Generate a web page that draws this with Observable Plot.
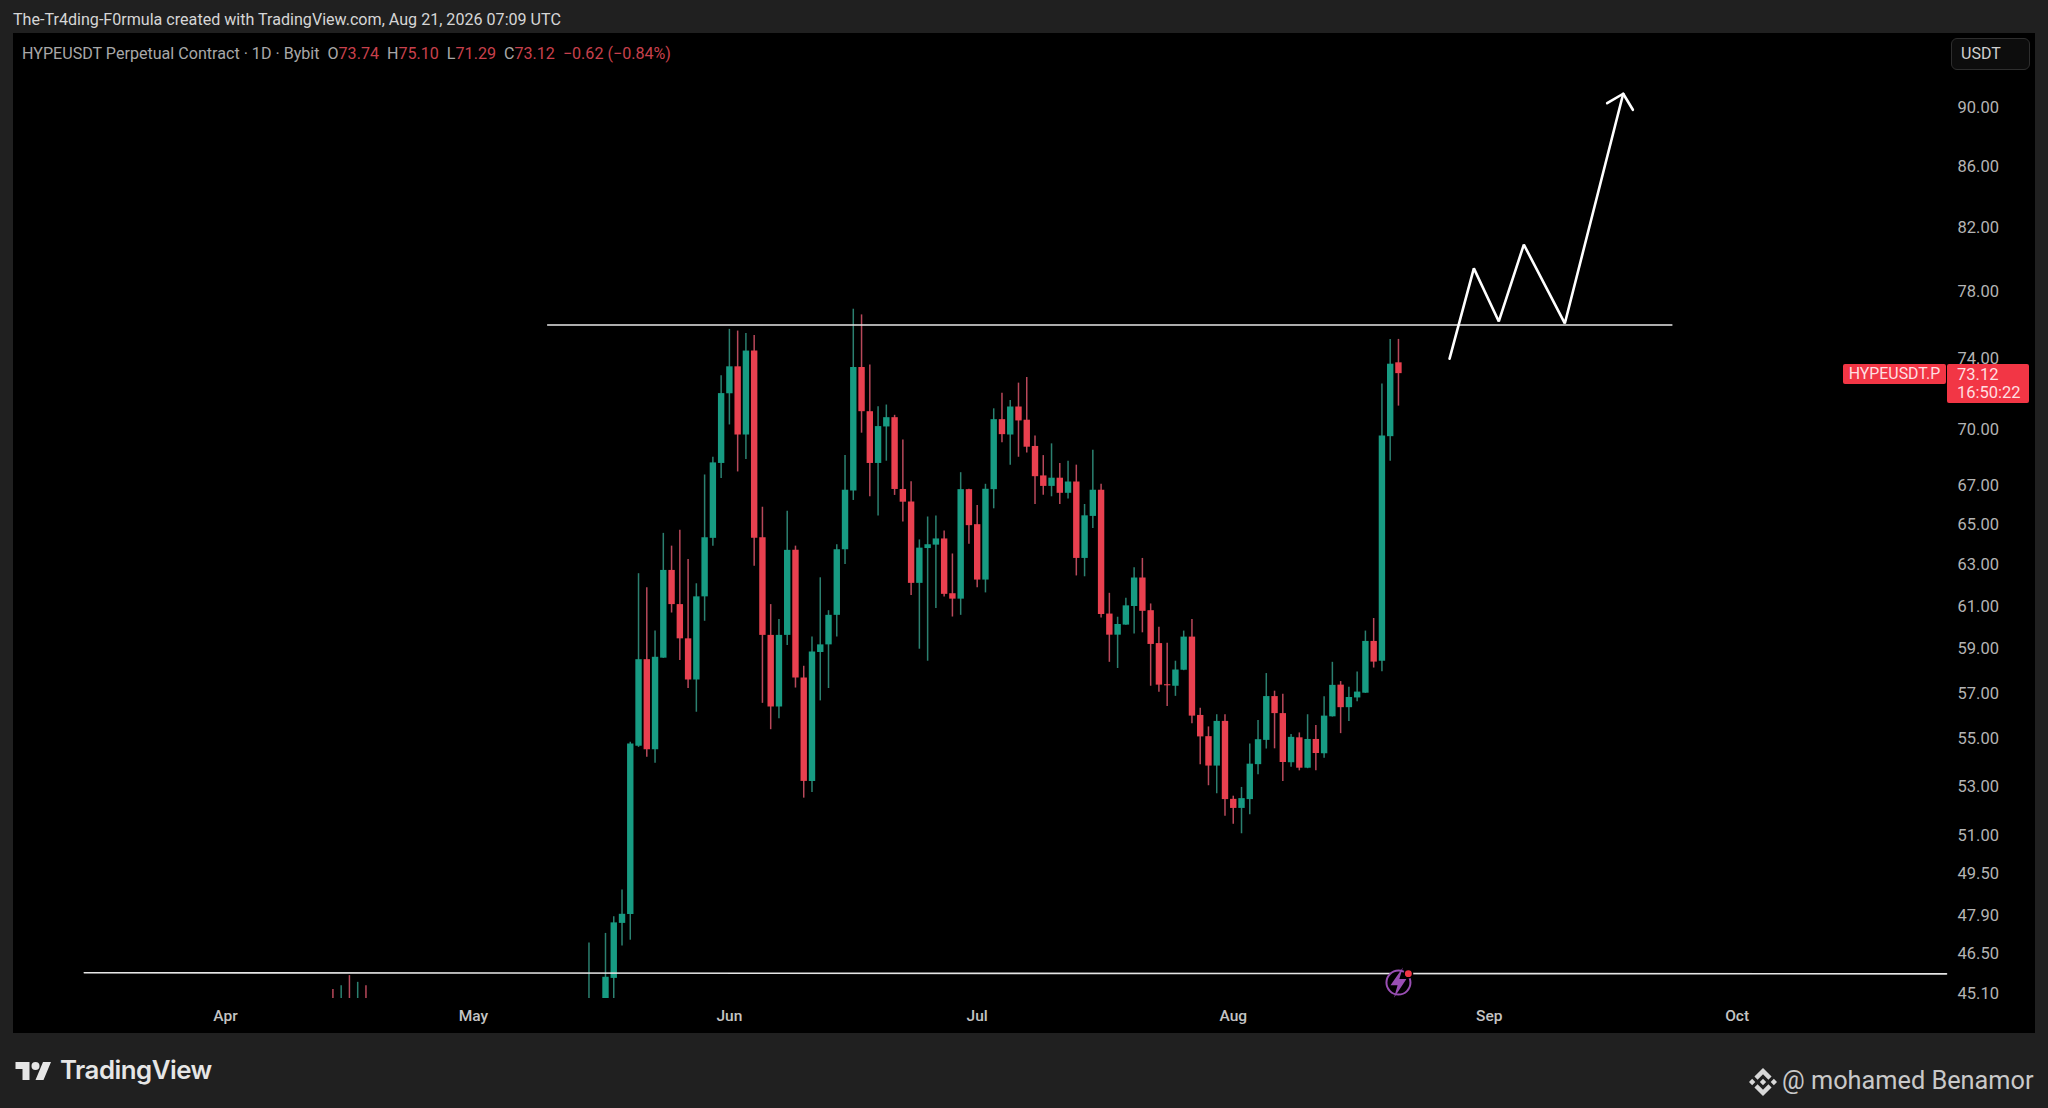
<!DOCTYPE html>
<html><head><meta charset="utf-8">
<script src="https://cdn.jsdelivr.net/npm/d3@7"></script>
<script src="https://cdn.jsdelivr.net/npm/@observablehq/plot@0.6"></script>
<style>
html,body{margin:0;padding:0;width:2048px;height:1108px;background:#202020;overflow:hidden;font-family:Roboto,sans-serif;}
#chart{position:absolute;left:13px;top:33px;width:2022px;height:1000px;background:#000;}
#chart svg{display:block;background:#000;}
.abs{position:absolute;white-space:nowrap;}
.r{color:#c8404c}
</style></head><body>
<div class="abs" style="left:13px;top:11px;font-size:16.1px;line-height:18px;color:#d6d6d6;">The-Tr4ding-F0rmula created with TradingView.com, Aug 21, 2026 07:09 UTC</div>
<div id="chart"></div>
<div class="abs" style="left:22px;top:45px;font-size:16.1px;line-height:18px;color:#a8a8a8;">HYPEUSDT Perpetual Contract · 1D · Bybit&nbsp;&nbsp;O<span class="r">73.74</span>&nbsp;&nbsp;H<span class="r">75.10</span>&nbsp;&nbsp;L<span class="r">71.29</span>&nbsp;&nbsp;C<span class="r">73.12</span>&nbsp;&nbsp;<span class="r">−0.62 (−0.84%)</span></div>
<div class="abs" style="left:1951px;top:38px;width:79px;height:32px;box-sizing:border-box;border:1px solid #2e2e2e;border-radius:6px;background:#0d0d0d;color:#d0d0d0;font-size:16px;line-height:30px;padding-left:9px;">USDT</div>
<div class="abs" style="left:1843px;top:364px;width:103px;height:20px;background:#f23645;border-radius:2px;color:#ffdfe1;font-size:15.9px;line-height:20px;text-align:center;">HYPEUSDT.P</div>
<div class="abs" style="left:1947px;top:364px;width:82px;height:39px;background:#f23645;border-radius:2px;color:#ffdfe1;font-size:16.5px;line-height:18px;padding-left:10px;box-sizing:border-box;padding-top:2px;">73.12<br>16:50:22</div>
<svg class="abs" style="left:15px;top:1058px" width="37" height="28" viewBox="0 0 36 28"><path d="M14 22H7V11H0V4h14v18zM28 22h-8l7.5-18h8L28 22z" fill="#e6e6e6"/><circle cx="20" cy="8" r="4" fill="#e6e6e6"/></svg>
<div class="abs" style="left:60px;top:1054px;font-size:25.8px;line-height:32px;font-weight:600;letter-spacing:-.5px;color:#e6e6e6;font-family:Inter,sans-serif;">TradingView</div>
<svg class="abs" style="left:1749px;top:1068px" width="28" height="28" viewBox="0 0 32 32"><path d="M9.8 13.4 16 7.2l6.2 6.2 3.6-3.6L16 0 6.2 9.8zM0 16l3.6-3.6L7.2 16l-3.6 3.6zM9.8 18.6 16 24.8l6.2-6.2 3.6 3.6L16 32l-9.8-9.8zM24.8 16l3.6-3.6L32 16l-3.6 3.6zM19.6 16 16 12.4 12.4 16 16 19.6z" fill="#d8d8d8"/></svg>
<div class="abs" style="left:1782px;top:1065px;font-size:25.3px;line-height:32px;color:#c9c9c9;">@ mohamed Benamor</div>
<script>
// Days counted from 1 April 2026
const dayIndex = [13,14,15,16,17,44,
 46,47,48,49,50,51,52,53,54,55,56,57,58,59,60,61,62,63,64,65,66,67,68,69,
 70,71,72,73,74,75,76,77,78,79,80,81,82,83,84,85,86,87,88,89,90,91,92,93,
 94,95,96,97,98,99,100,101,102,103,104,105,106,107,108,109,110,111,112,113,114,115,116,117,
 118,119,120,121,122,123,124,125,126,127,128,129,130,131,132,133,134,135,136,137,138,139,140,141,142];
const opens = [44.75,44.6,44.75,44.6,44.75,44.2,
 44.6,45.61,47.61,47.94,54.67,58.49,54.52,58.56,62.71,61.06,59.45,57.57,61.43,64.30,68.17,71.98,73.51,69.70,
 74.42,64.33,59.61,56.37,59.61,63.70,
 57.66,53.19,58.82,59.17,60.55,63.73,66.72,73.47,70.98,68.17,70.14,70.65,66.80,66.15,62.08,63.79,63.96,64.27,61.58,61.32,66.79,64.99,62.24,66.79,
 70.54,69.70,71.24,70.51,69.08,67.51,66.96,67.39,66.6,67.19,63.30,65.41,66.76,60.61,59.62,60.09,60.97,62.34,60.77,59.23,57.36,57.29,58.01,59.53,
 56.0,55.08,53.83,55.74,52.45,52.08,52.44,53.89,54.92,56.83,56.08,53.97,55.03,53.74,54.96,54.35,55.94,57.34,56.34,56.77,56.98,59.33,58.42,69.61,73.74];
const highs = [45.22,45.35,45.71,45.47,45.35,46.89,
 47.24,47.86,48.87,54.84,62.55,61.87,59.81,64.55,63.91,64.71,63.25,62.06,67.56,68.50,73.0,75.69,75.59,75.45,
 75.33,65.88,61.06,60.35,65.68,63.91,
 58.19,59.53,62.35,60.77,63.98,68.59,76.89,76.55,73.62,71.25,71.35,70.78,69.43,67.21,64.22,65.38,65.43,64.67,63.52,67.68,66.81,65.97,67.07,71.14,
 72.01,71.6,72.58,72.90,69.65,68.59,69.22,68.17,68.29,68.08,66.02,68.87,67.07,61.60,60.46,61.36,62.84,63.30,61.09,59.99,59.24,58.42,59.81,60.35,
 56.31,55.50,56.03,56.03,52.58,52.94,54.77,55.78,57.86,57.07,56.93,55.17,55.24,56.03,55.56,56.82,58.37,57.5,57.25,57.93,59.81,60.40,72.53,75.09,75.10];
const lows = [44.3,44.3,44.3,44.3,44.3,43.9,
 44.2,44.6,46.78,46.99,54.62,54.2,53.95,58.55,60.66,58.45,57.19,56.14,60.27,63.91,67.37,70.25,67.72,68.38,
 62.92,56.53,55.38,55.86,59.14,57.21,
 52.50,52.73,56.64,57.19,59.53,63.0,66.23,69.80,66.42,65.43,68.29,66.49,65.12,61.49,58.97,58.42,60.87,61.42,60.47,60.55,64.0,61.87,61.62,65.80,
 69.28,68.08,68.50,68.73,66.02,66.5,66.42,66.02,66.30,62.44,62.40,64.79,60.43,58.37,58.09,60.08,59.67,59.73,57.29,57.02,56.39,56.84,57.99,55.64,
 53.89,53.01,52.68,51.76,51.44,51.06,51.82,53.47,54.55,54.56,53.19,53.78,53.63,53.72,53.63,54.16,55.93,55.21,55.74,56.60,56.97,58.11,57.94,68.29,71.29];
const closes = [44.6,44.75,44.6,44.75,44.6,44.7,
 45.65,47.63,47.95,54.77,58.49,54.52,58.60,62.71,61.06,59.45,57.57,61.43,64.33,68.20,71.99,73.51,69.70,74.42,
 64.30,59.61,56.37,59.61,63.70,57.66,
 53.19,58.84,59.17,60.55,63.73,66.76,73.47,70.98,68.17,70.16,70.65,66.80,66.14,62.08,63.81,63.98,64.27,61.55,61.32,66.79,64.94,62.24,66.81,70.54,
 69.72,71.24,70.47,69.04,67.47,66.96,67.39,66.6,67.19,63.30,65.44,66.76,60.59,59.62,60.12,61.0,62.34,60.74,59.19,57.34,57.31,58.02,59.53,55.97,
 55.07,53.83,55.74,52.44,52.08,52.48,53.91,54.95,56.83,56.08,53.98,55.05,53.74,54.96,54.36,55.97,57.33,56.34,56.79,57.03,59.33,58.38,69.65,73.66,73.12];
const priceTicks = [90,86,82,78,74,70,67,65,63,61,59,57,55,53,51,49.5,47.9,46.5,45.1];
const monthLabels = [[3,1],[4,1],[5,1],[6,1],[7,1],[8,1],[9,1]];
// Drawings, as [day, price]
const resistance = [[39,75.95],[175.1,75.95]];
const support = [[-17.1,45.81],[208.35,45.77]];
const zigzag = [[148.19,73.98],[151.13,79.38],[154.15,76.16],[157.18,80.87],[162.14,76.04],[169.21,90.97]];
const arrowHead = [[167.27,90.30],[169.21,90.97],[170.38,89.84]];
const iconSpot = [142,45.46];
const alertSpot = [143.2,45.78];

const toDate = d => new Date(Date.UTC(2026,3,1) + d*864e5);
const rows = dayIndex.map((d,i)=>({date:toDate(d),open:opens[i],high:highs[i],low:lows[i],close:closes[i]}));
const ups = rows.filter(r=>r.close>=r.open), downs = rows.filter(r=>r.close<r.open);
const pts = a => a.map(([d,p])=>({date:toDate(d),price:p}));
const UP="#179b82", DOWN="#e8404f", UPW="#2b8070", DOWNW="#b8485a";
const opt = {clip:true};
const bodyW=6.4, wickW=1.5;
const lineStyle={x:"date",y:"price",stroke:"#e6e6e6"};
const bolt = {draw(c,s){const k=Math.sqrt(s)/9;const p=[[2.5,-8.5],[-4.5,1.5],[-0.5,1.5],[-2.5,8.5],[4.5,-2],[0.5,-2]];
  p.forEach(([a,b],i)=>i?c.lineTo(a*k,b*k):c.moveTo(a*k,b*k));c.closePath();}};
document.getElementById("chart").append(Plot.plot({
  width:2022,height:1000,marginLeft:0,marginRight:89,marginTop:0,marginBottom:35,
  style:{background:"#000",color:"#b4b4b4",fontFamily:"Roboto,sans-serif",fontSize:"15.5px",overflow:"visible"},
  x:{type:"utc",domain:[toDate(-25.67),toDate(208.35)]},
  y:{type:"log",domain:[44.90,95.35]},
  marks:[
    Plot.axisY({anchor:"right",ticks:priceTicks,tickSize:0,tickPadding:11,tickFormat:d3.format(".2f"),label:null,fill:"#b4b4b4",fontSize:16.5,dy:0.5}),
    Plot.axisX({ticks:monthLabels.map(([m,d])=>new Date(Date.UTC(2026,m,d))),tickSize:0,tickPadding:11,tickFormat:d3.utcFormat("%b"),label:null,fill:"#c4c4c4",fontWeight:500}),
    Plot.ruleX(ups,{x:"date",y1:"low",y2:"high",stroke:UPW,strokeWidth:wickW,...opt}),
    Plot.ruleX(downs,{x:"date",y1:"low",y2:"high",stroke:DOWNW,strokeWidth:wickW,...opt}),
    Plot.ruleX(ups,{x:"date",y1:"open",y2:"close",stroke:UP,strokeWidth:bodyW,...opt}),
    Plot.ruleX(downs,{x:"date",y1:"open",y2:"close",stroke:DOWN,strokeWidth:bodyW,...opt}),
    Plot.line(pts(resistance),{...lineStyle,strokeWidth:1.6}),
    Plot.line(pts(support),{...lineStyle,strokeWidth:1.6}),
    Plot.line(pts(zigzag),{...lineStyle,stroke:"#fff",strokeWidth:2.6,strokeLinejoin:"miter"}),
    Plot.line(pts(arrowHead),{...lineStyle,stroke:"#fff",strokeWidth:2.6}),
    Plot.dot(pts([iconSpot]),{x:"date",y:"price",r:12,fill:"#000",stroke:"#9a4fb4",strokeWidth:2}),
    Plot.dot(pts([iconSpot]),{x:"date",y:"price",r:9,symbol:bolt,fill:"#9a4fb4",stroke:"none"}),
    Plot.dot(pts([alertSpot]),{x:"date",y:"price",r:4.2,fill:"#f23645",stroke:"#000",strokeWidth:1.5})
  ]
}));
</script>
</body></html>
